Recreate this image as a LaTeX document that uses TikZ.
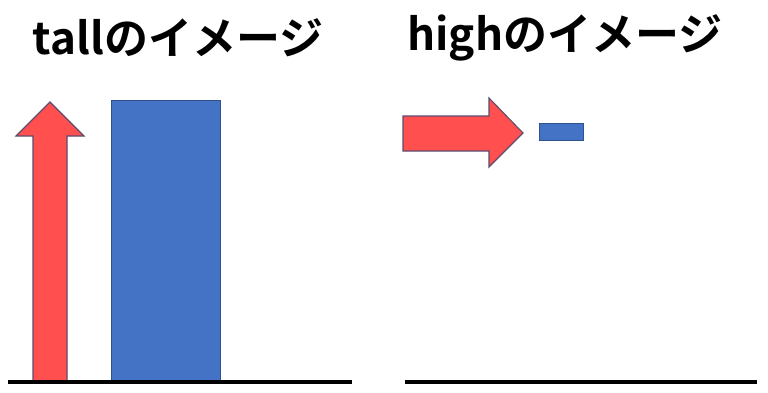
\documentclass[tikz,border=0pt]{standalone}
\usepackage{fontspec}
\newfontfamily\jpfont{Noto Sans CJK JP}[BoldFont={Noto Sans CJK JP Bold}]
\usepackage{tikz}
\definecolor{arrowred}{HTML}{FF4F4F}
\definecolor{arrowedge}{HTML}{5E4B6E}
\definecolor{barblue}{HTML}{4472C4}
\definecolor{baredge}{HTML}{2F528F}
\tikzset{%
    titletext/.style={inner sep=0pt, font=\jpfont\bfseries\fontsize{44}{50}\selectfont},
    redarrow/.style={fill=arrowred, draw=arrowedge, line width=1.1pt, line join=miter},
    bluebar/.style={fill=barblue, draw=baredge, line width=0.8pt},
    ground/.style={line width=3.2pt},
}

\begin{document}
\begin{tikzpicture}[x=1pt,y=-1pt]
	\useasboundingbox (0,0) rectangle (768,392);

	\node[titletext](tall) at (178,38) {tallのイメージ};
	\node[titletext](high) at (565,38) {highのイメージ};

	% left: tall
	\draw[redarrow] (33,382) -- (33,136) -- (16,136) -- (50,102) -- (84,136)
		-- (67,136) -- (67,382) -- cycle;
	\draw[bluebar] (111,100) rectangle (220,382);

	% right: high
	\draw[redarrow] (403,116) -- (489,116) -- (489,98) -- (523,133) -- (489,167)
		-- (489,151) -- (403,151) -- cycle;
	\draw[bluebar] (539,123) rectangle (583,140);

	\coordinate(gl1) at (8,382);
	\coordinate(gl2) at (352,382);
	\coordinate(gr1) at (405,382);
	\coordinate(gr2) at (757,382);
	\draw[ground] (gl1) -- (gl2);
	\draw[ground] (gr1) -- (gr2);
\end{tikzpicture}
\end{document}
